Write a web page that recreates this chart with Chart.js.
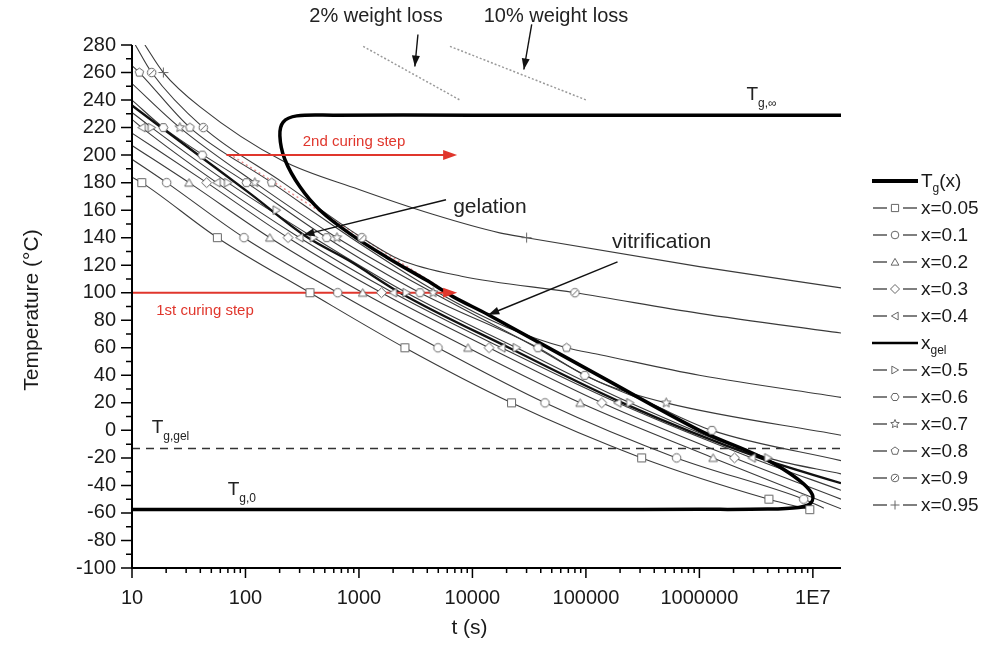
<!DOCTYPE html>
<html>
<head>
<meta charset="utf-8">
<title>TTT diagram</title>
<script src="https://cdn.jsdelivr.net/npm/chart.js@4.4.1/dist/chart.umd.min.js"></script>
<style>
  body { margin: 0; background: #fff; }
  #wrap { position: relative; width: 996px; height: 651px; }
  #legend { position: absolute; left: 872px; top: 167px; font-family: "Liberation Sans", Arial, sans-serif; font-size: 19px; color: #1a1a1a; }
  .row { display: flex; align-items: center; height: 27px; white-space: nowrap; }
  .row canvas { margin-right: 3px; }
  .row sub { font-size: 12px; vertical-align: -5px; line-height: 0; }
</style>
</head>
<body>
<div id="wrap">
  <canvas id="ttt" width="996" height="651"></canvas>
  <div id="legend"></div>
</div>
<script>
const FONT = '"Liberation Sans", Arial, sans-serif';

// axes
const xMin = 10, xMax = 1.77e7;
const xTickLabels = { 1: '10', 2: '100', 3: '1000', 4: '10000', 5: '100000', 6: '1000000', 7: '1E7' };
const yMin = -100, yMax = 280;

// isoconversion curves, [t (s), T (°C)]
const x005 = [[10,184],[12.2,180],[56.5,140],[370,100],[2540,60],[22100,20],[3.1e5,-20],[4.1e6,-50],[9.4e6,-57.6]];
const x01  = [[10,197],[20.2,180],[97,140],[650,100],[4970,60],[43600,20],[6.3e5,-20],[8.3e6,-50],[1.25e7,-56.5]];
const x02  = [[10,207],[31.8,180],[164,140],[1080,100],[9130,60],[89000,20],[1.32e6,-20],[1.77e7,-57]];
const x03  = [[10,216],[45.5,180],[237,140],[1580,100],[14000,60],[1.38e5,20],[2.04e6,-20],[1.77e7,-50]];
const x04  = [[10,226],[12.2,220],[55.8,180],[300,140],[2000,100],[18060,60],[1.9e5,20],[2.9e6,-20],[1.77e7,-43.5]];
const xGel = [[10,236],[40,199],[110,172],[340,141],[830,123],[2300,100],[21000,60],[2.1e5,20],[3.4e6,-20],[1.77e7,-38.4]];
const x05  = [[10,231],[14.9,220],[70,180],[400,140],[2620,100],[24500,60],[2.45e5,20],[4.03e6,-20],[1.77e7,-31.6]];
const x06  = [[10,240],[18.9,220],[102,180],[520,140],[3450,100],[37800,60],[97700,40],[3.6e5,20],[1.29e6,0],[1.77e7,-22]];
const x07  = [[10,252],[26.4,220],[121,180],[640,140],[4500,100],[30000,64],[1.33e5,35],[5.1e5,20],[1.77e7,-3.5]];
const x08  = [[10,265],[11.6,260],[32.4,220],[170,180],[850,140],[5000,100],[20000,75],[67600,60],[1.33e5,55],[1e6,40],[1.77e7,24]];
const x09  = [[10.7,280],[14.9,260],[42.5,220],[214,180],[1060,140],[2300,124],[8000,112],[80000,100],[1e6,85],[1.77e7,70.7]];
const x095 = [[13,280],[18.9,260],[39.8,235],[210,196],[1000,175],[4470,157],[17400,143.5],[30000,140],[1e6,119],[1.77e7,103.5]];

// symbols placed on the curves
const mk005 = [[12.2,180],[56.5,140],[370,100],[2540,60],[22100,20],[3.1e5,-20],[4.1e6,-50],[9.4e6,-57.6]];
const mk01  = [[20.2,180],[97,140],[650,100],[4970,60],[43600,20],[6.3e5,-20],[8.3e6,-50]];
const mk02  = [[31.8,180],[164,140],[1080,100],[9130,60],[89000,20],[1.32e6,-20]];
const mk03  = [[45.5,180],[237,140],[1580,100],[14000,60],[1.38e5,20],[2.04e6,-20]];
const mk04  = [[12.2,220],[55.8,180],[300,140],[2000,100],[18060,60],[1.9e5,20],[2.9e6,-20]];
const mk05  = [[14.9,220],[70,180],[188,160],[400,140],[2620,100],[24500,60],[2.45e5,20],[4.03e6,-20]];
const mk06  = [[18.9,220],[41.6,200],[102,180],[520,140],[3450,100],[37800,60],[97700,40],[1.29e6,0]];
const mk07  = [[26.4,220],[121,180],[640,140],[4500,100],[5.1e5,20]];
const mk08  = [[11.6,260],[32.4,220],[170,180],[67600,60]];
const mk09  = [[14.9,260],[42.5,220],[1060,140],[80000,100]];
const mk095 = [[18.9,260],[30000,140]];

// Tg(x): Tg0 line, vitrification curve, Tg-infinity line
const tgCurve = [[10,-57.5],[1e3,-57.5],[1e5,-57.5],[1e6,-57.4],[4e6,-57.2],[7.5e6,-56],[9.4e6,-53.5],[1e7,-48],
  [8.8e6,-41],[6.7e6,-33],[4.5e6,-24],[2.5e6,-14],[1e6,0],[1.33e5,39.4],[13800,84],[6800,97],[3950,109],[1740,126],
  [830,143],[453,160],[302,177],[222,197],[201,214],[215,224],[283,228.5],[600,229],[1e4,229],[1e6,229],[1.77e7,229]];
const tgGel = -13.2;
const loss2 = [[1090,279],[7770,240]];
const loss10 = [[6340,279],[1.01e5,240]];
const cure1 = [[10,100],[6760,100]];
const cure2 = [[68,200],[6760,200]];
const redDots = [[78,199],[5140,104]];

const series = [
  { label: 'x=0.05', curve: x005, marks: mk005, sym: 'square' },
  { label: 'x=0.1',  curve: x01,  marks: mk01,  sym: 'circle' },
  { label: 'x=0.2',  curve: x02,  marks: mk02,  sym: 'up' },
  { label: 'x=0.3',  curve: x03,  marks: mk03,  sym: 'diamond' },
  { label: 'x=0.4',  curve: x04,  marks: mk04,  sym: 'left' },
  { label: 'x=0.5',  curve: x05,  marks: mk05,  sym: 'right' },
  { label: 'x=0.6',  curve: x06,  marks: mk06,  sym: 'hex' },
  { label: 'x=0.7',  curve: x07,  marks: mk07,  sym: 'star' },
  { label: 'x=0.8',  curve: x08,  marks: mk08,  sym: 'pent' },
  { label: 'x=0.9',  curve: x09,  marks: mk09,  sym: 'circline' },
  { label: 'x=0.95', curve: x095, marks: mk095, sym: 'plus' }
];

const notes = [
  { text: '2% weight loss', t: 1413, T: 296.4, align: 'center', size: 20, color: '#222' },
  { text: '10% weight loss', t: 54500, T: 296.4, align: 'center', size: 20, color: '#222' },
  { text: 'gelation', t: 6760, T: 158, align: 'left', size: 21, color: '#222' },
  { text: 'vitrification', t: 1.7e5, T: 132.6, align: 'left', size: 21, color: '#222' },
  { text: '2nd curing step', t: 904, T: 206.9, align: 'center', size: 15, color: '#e0362c' },
  { text: '1st curing step', t: 44, T: 83.9, align: 'center', size: 15, color: '#e0362c' }
];
const subNotes = [
  { sub: 'g,\u221e', t: 2.6e6, T: 240.3 },
  { sub: 'g,gel', t: 14.9, T: -2 },
  { sub: 'g,0', t: 69.7, T: -47.2 }
];
const pointers = [
  { from: [3310,287.6], to: [3110,264.4] },
  { from: [33300,294.9], to: [28400,262.2] },
  { from: [5850,167.6], to: [324,142] },
  { from: [1.9e5,122.4], to: [13800,84] }
];

const pts = a => a.map(p => ({ x: p[0], y: p[1] }));

function poly(g, cx, cy, r, n, rot) {
  for (let i = 0; i < n; i++) {
    const a = (rot + i * 360 / n) * Math.PI / 180;
    const px = cx + r * Math.cos(a), py = cy + r * Math.sin(a);
    if (i) g.lineTo(px, py); else g.moveTo(px, py);
  }
  g.closePath();
}

function drawSym(g, kind, cx, cy, r) {
  g.save();
  g.strokeStyle = '#666';
  g.fillStyle = '#fff';
  g.lineWidth = 1;
  g.beginPath();
  if (kind === 'square') g.rect(cx - r * 0.8, cy - r * 0.8, r * 1.6, r * 1.6);
  else if (kind === 'circle' || kind === 'circline') g.arc(cx, cy, r * 0.85, 0, Math.PI * 2);
  else if (kind === 'up') poly(g, cx, cy + r * 0.2, r, 3, -90);
  else if (kind === 'diamond') poly(g, cx, cy, r, 4, -90);
  else if (kind === 'left') poly(g, cx + r * 0.2, cy, r, 3, 180);
  else if (kind === 'right') poly(g, cx - r * 0.2, cy, r, 3, 0);
  else if (kind === 'hex') poly(g, cx, cy, r * 0.9, 6, 0);
  else if (kind === 'pent') poly(g, cx, cy, r * 0.9, 5, -90);
  else if (kind === 'star') {
    for (let i = 0; i < 10; i++) {
      const a = (-90 + i * 36) * Math.PI / 180, rr = i % 2 ? r * 0.45 : r;
      if (i) g.lineTo(cx + rr * Math.cos(a), cy + rr * Math.sin(a)); else g.moveTo(cx + rr * Math.cos(a), cy + rr * Math.sin(a));
    }
    g.closePath();
  }
  if (kind !== 'plus') { g.fill(); g.stroke(); }
  if (kind === 'circline') {
    g.beginPath(); g.moveTo(cx - r * 0.5, cy + r * 0.5); g.lineTo(cx + r * 0.5, cy - r * 0.5); g.stroke();
  }
  if (kind === 'plus') {
    g.beginPath(); g.moveTo(cx - r, cy); g.lineTo(cx + r, cy); g.moveTo(cx, cy - r); g.lineTo(cx, cy + r); g.stroke();
  }
  g.restore();
}

function symCanvas(kind, r) {
  const c = document.createElement('canvas');
  c.width = c.height = Math.ceil(2 * r + 3);
  drawSym(c.getContext('2d'), kind, c.width / 2, c.height / 2, r);
  return c;
}

// datasets
const datasets = [];
series.forEach(s => datasets.push({
  data: pts(s.marks), showLine: false, pointStyle: symCanvas(s.sym, 5), pointRadius: 4, order: 0
}));
datasets.push({ data: pts(tgCurve), borderColor: '#000', borderWidth: 3.5, pointRadius: 0, tension: 0.35, order: 1 });
datasets.push({ data: pts(xGel), borderColor: '#111', borderWidth: 2.4, pointRadius: 0, cubicInterpolationMode: 'monotone', order: 1 });
series.forEach(s => datasets.push({
  data: pts(s.curve), borderColor: '#3a3a3a', borderWidth: 1.1, pointRadius: 0, cubicInterpolationMode: 'monotone', order: 2
}));
datasets.push({ data: pts([[xMin, tgGel], [xMax, tgGel]]), borderColor: '#333', borderWidth: 1.6, borderDash: [8, 6], pointRadius: 0, order: 2 });
[loss2, loss10].forEach(d => datasets.push({ data: pts(d), borderColor: '#9a9a9a', borderWidth: 1.5, borderDash: [2, 2], pointRadius: 0, order: 3 }));
datasets.push({ data: pts(redDots), borderColor: 'rgba(220,70,70,0.6)', borderWidth: 1.5, borderDash: [2, 3], pointRadius: 0, order: 3 });
[cure1, cure2].forEach(d => datasets.push({ data: pts(d), borderColor: '#e0362c', borderWidth: 2, pointRadius: 0, order: 0 }));

function head(ctx, x0, y0, x1, y1, len, w, color) {
  const a = Math.atan2(y1 - y0, x1 - x0);
  ctx.fillStyle = color;
  ctx.beginPath();
  ctx.moveTo(x1, y1);
  ctx.lineTo(x1 - len * Math.cos(a) + w * Math.sin(a), y1 - len * Math.sin(a) - w * Math.cos(a));
  ctx.lineTo(x1 - len * Math.cos(a) - w * Math.sin(a), y1 - len * Math.sin(a) + w * Math.cos(a));
  ctx.closePath();
  ctx.fill();
}

const decor = {
  id: 'decor',
  afterDraw(chart) {
    const { ctx, chartArea: a, scales: { x, y } } = chart;
    const X = v => x.getPixelForValue(v), Y = v => y.getPixelForValue(v);
    ctx.save();
    // axis lines and ticks
    ctx.strokeStyle = '#000';
    ctx.lineWidth = 2;
    ctx.beginPath();
    ctx.moveTo(a.left, a.top); ctx.lineTo(a.left, a.bottom); ctx.lineTo(a.right, a.bottom);
    ctx.stroke();
    ctx.lineWidth = 1.5;
    ctx.beginPath();
    for (let v = yMin; v <= yMax; v += 10) {
      const py = Y(v), len = v % 20 === 0 ? 11 : 6;
      ctx.moveTo(a.left - len, py); ctx.lineTo(a.left, py);
    }
    for (let e = 1; e <= 7; e++) {
      for (let m = 1; m <= 9; m++) {
        const v = m * Math.pow(10, e);
        if (v > xMax) break;
        const px = X(v), len = m === 1 ? 10 : 5;
        ctx.moveTo(px, a.bottom); ctx.lineTo(px, a.bottom + len);
      }
    }
    ctx.stroke();

    // red curing-step arrow heads
    [cure1, cure2].forEach(d => head(ctx, X(d[0][0]), Y(d[0][1]), X(d[1][0]) + 4, Y(d[1][1]), 14, 5, '#e0362c'));

    // black pointer arrows
    ctx.strokeStyle = '#111';
    ctx.lineWidth = 1.4;
    pointers.forEach(p => {
      const x0 = X(p.from[0]), y0 = Y(p.from[1]), x1 = X(p.to[0]), y1 = Y(p.to[1]);
      ctx.beginPath(); ctx.moveTo(x0, y0); ctx.lineTo(x1, y1); ctx.stroke();
      head(ctx, x0, y0, x1, y1, 11, 4, '#111');
    });

    // text notes
    ctx.textBaseline = 'alphabetic';
    notes.forEach(n => {
      ctx.font = n.size + 'px ' + FONT;
      ctx.fillStyle = n.color;
      ctx.textAlign = n.align;
      ctx.fillText(n.text, X(n.t), Y(n.T));
    });
    ctx.fillStyle = '#222';
    ctx.textAlign = 'left';
    subNotes.forEach(n => {
      const px = X(n.t), py = Y(n.T);
      ctx.font = '19px ' + FONT;
      ctx.fillText('T', px, py);
      const w = ctx.measureText('T').width;
      ctx.font = '12px ' + FONT;
      ctx.fillText(n.sub, px + w, py + 7);
    });

    // axis titles
    ctx.font = '21px ' + FONT;
    ctx.fillStyle = '#1a1a1a';
    ctx.textAlign = 'center';
    ctx.textBaseline = 'middle';
    ctx.fillText('t (s)', (a.left + a.right) / 2 - 17, 628);
    ctx.translate(32, 310);
    ctx.rotate(-Math.PI / 2);
    ctx.fillText('Temperature (\u00b0C)', 0, 0);
    ctx.restore();
  }
};

Chart.defaults.font.family = FONT;
Chart.defaults.color = '#1a1a1a';

new Chart(document.getElementById('ttt'), {
  type: 'line',
  data: { datasets },
  options: {
    responsive: false,
    animation: false,
    devicePixelRatio: 1,
    layout: { padding: { top: 45, right: 155, left: 0, bottom: 0 } },
    plugins: { legend: { display: false }, tooltip: { enabled: false } },
    scales: {
      x: {
        type: 'logarithmic', min: xMin, max: xMax,
        grid: { display: false, drawTicks: true, tickLength: 10 },
        border: { display: false },
        afterBuildTicks: s => { s.ticks = [1, 2, 3, 4, 5, 6, 7].map(e => ({ value: Math.pow(10, e) })); },
        afterFit: s => { s.height = 83; },
        ticks: {
          autoSkip: false, maxRotation: 0, padding: 8, font: { size: 20 },
          callback: v => xTickLabels[Math.round(Math.log10(v))] || ''
        }
      },
      y: {
        type: 'linear', min: yMin, max: yMax,
        grid: { display: false, drawTicks: true, tickLength: 11 },
        border: { display: false },
        afterFit: s => { s.width = 132; },
        ticks: { stepSize: 20, padding: 5, font: { size: 20 } }
      }
    }
  },
  plugins: [decor]
});

// legend
const legend = document.getElementById('legend');
function legendRow(label, draw) {
  const row = document.createElement('div');
  row.className = 'row';
  const c = document.createElement('canvas');
  c.width = 46; c.height = 20;
  draw(c.getContext('2d'));
  const span = document.createElement('span');
  span.innerHTML = label;
  row.appendChild(c);
  row.appendChild(span);
  legend.appendChild(row);
}
function solid(width) {
  return g => { g.strokeStyle = '#000'; g.lineWidth = width; g.beginPath(); g.moveTo(0, 10); g.lineTo(46, 10); g.stroke(); };
}
function withSym(kind) {
  return g => {
    g.strokeStyle = '#555'; g.lineWidth = 1.3;
    g.beginPath(); g.moveTo(1, 10); g.lineTo(15, 10); g.moveTo(31, 10); g.lineTo(45, 10); g.stroke();
    drawSym(g, kind, 23, 10, 4.5);
  };
}
legendRow('T<sub>g</sub>(x)', solid(4));
series.slice(0, 5).forEach(s => legendRow(s.label, withSym(s.sym)));
legendRow('x<sub>gel</sub>', solid(2.4));
series.slice(5).forEach(s => legendRow(s.label, withSym(s.sym)));
</script>
</body>
</html>
